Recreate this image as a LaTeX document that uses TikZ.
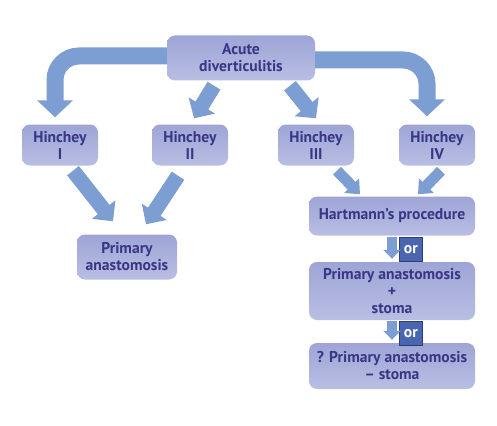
\documentclass[tikz,border=0pt]{standalone}
\usepackage{fontspec}
\setmainfont{PT Sans}
\usetikzlibrary{arrows.meta,positioning}
\definecolor{boxtop}{HTML}{9EA5D6}
\definecolor{boxbot}{HTML}{B9BEE3}
\definecolor{boxtext}{HTML}{3A3585}
\definecolor{arrowfill}{HTML}{7C9ED2}
\definecolor{orfill}{HTML}{4A66B0}
\definecolor{oredge}{HTML}{2C3E7A}

\begin{document}
\begin{tikzpicture}[x=1pt,y=-1pt,
	main_box/.style={rounded corners=8pt,top color=boxtop,bottom color=boxbot,
		text=boxtext,align=center,inner sep=1pt,font=\fontsize{15.6}{17}\selectfont\bfseries},
	or_box/.style={fill=orfill,draw=oredge,line width=0.8pt,text=white,
		minimum width=23pt,minimum height=24pt,inner sep=0pt,font=\fontsize{15.6}{17}\selectfont\bfseries},
	big_arrow/.style={draw=arrowfill,line width=17pt,rounded corners=24pt,
		-{Triangle[width=35pt,length=17pt]}},
	mid_arrow/.style={draw=arrowfill,line width=15pt,-{Triangle[width=30pt,length=15pt]}},
	low_arrow/.style={draw=arrowfill,line width=15pt,-{Triangle[width=29pt,length=15pt]}},
	small_arrow/.style={draw=arrowfill,line width=11pt,-{Triangle[width=20pt,length=12pt]}},
	down_arrow/.style={draw=arrowfill,line width=10pt,-{Triangle[width=17pt,length=9pt]}}]

		\useasboundingbox (0,0) rectangle (497,425);

		\node[main_box,minimum width=148pt,minimum height=45pt] (acute) at (241,58) {Acute\\diverticulitis};
		\node[main_box,minimum width=76pt,minimum height=41pt] (h1) at (60,145) {Hinchey\\I};
		\node[main_box,minimum width=76pt,minimum height=41pt] (h2) at (190,145) {Hinchey\\II};
		\node[main_box,minimum width=76pt,minimum height=41pt] (h3) at (316,145) {Hinchey\\III};
		\node[main_box,minimum width=76pt,minimum height=41pt] (h4) at (437,145) {Hinchey\\IV};
		\node[main_box,minimum width=100pt,minimum height=45pt] (pa) at (127,257) {Primary\\anastomosis};
		\node[main_box,minimum width=166pt,minimum height=39pt] (hart) at (392,216) {Hartmann’s procedure};
		\node[main_box,minimum width=166pt,minimum height=58pt] (pas) at (392,291) {Primary anastomosis\\+\\stoma};
		\node[main_box,minimum width=166pt,minimum height=46pt] (pans) at (392,366) {? Primary anastomosis\\– stoma};

		\node[or_box,below right=1pt and 7pt of hart.south] (or1) {or};
		\node[or_box,below right=1pt and 7pt of pas.south] (or2) {or};

		\draw[big_arrow] ([yshift=2]acute.west) -| ([xshift=-5,yshift=7]h1.north);
		\draw[big_arrow] ([yshift=-2]acute.east) -| ([xshift=-10,yshift=8]h4.north);
		\draw[mid_arrow] ([xshift=-27,yshift=-5]acute.south) -- ([xshift=4,yshift=6]h2.north);
		\draw[mid_arrow] ([xshift=49,yshift=-5]acute.south) -- ([yshift=6]h3.north);
		\draw[low_arrow] ([xshift=13,yshift=-5]h1.south) -- ([xshift=-14,yshift=13]pa.north);
		\draw[low_arrow] ([xshift=-12,yshift=-10]h2.south) -- ([xshift=19,yshift=10]pa.north);
		\draw[small_arrow] ([xshift=21,yshift=-5]h3.south) -- ([xshift=-32,yshift=2]hart.north);
		\draw[small_arrow] ([xshift=4,yshift=-5]h4.south) -- ([xshift=26,yshift=2]hart.north);
		\draw[down_arrow] ([yshift=-1]hart.south) -- ([yshift=3]pas.north);
		\draw[down_arrow] ([yshift=-1]pas.south) -- ([yshift=3]pans.north);
		\end{tikzpicture}
\end{document}
